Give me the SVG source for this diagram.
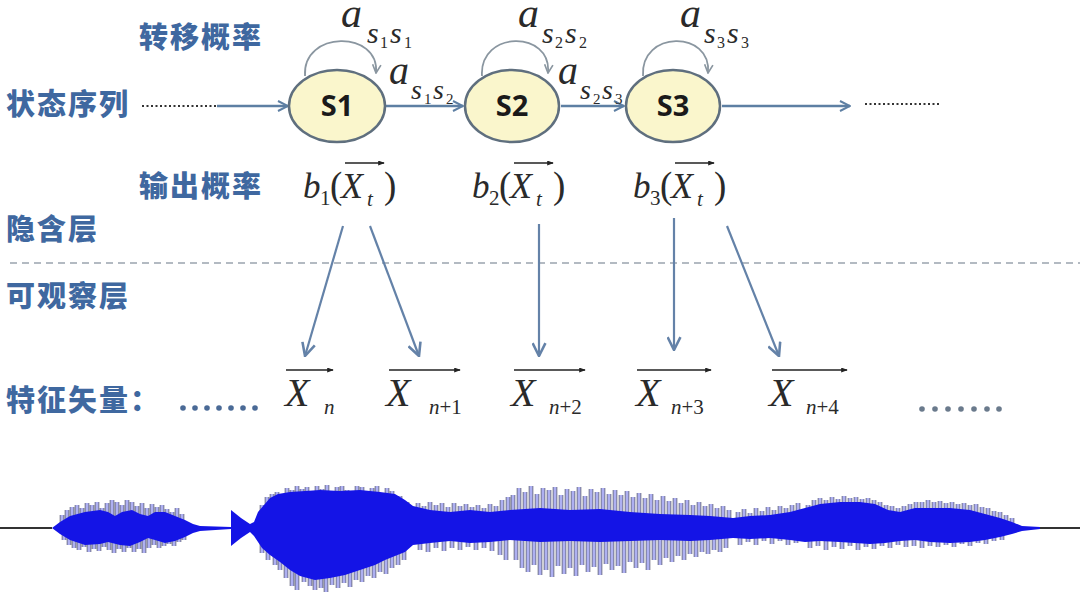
<svg xmlns="http://www.w3.org/2000/svg" width="1080" height="601" viewBox="0 0 1080 601">
<style>
.lbl{font-family:"Noto Sans CJK SC","Noto Sans",sans-serif;font-weight:900;font-size:29px;fill:#3f68a0;letter-spacing:2px}
.m{font-family:"Liberation Serif","DejaVu Serif",serif;fill:#2a2a2a}
.it{font-style:italic}
.node ellipse{fill:#faf6cc;stroke:#5f6f7e;stroke-width:2.5}
.node text{font-family:"Open Sans","Liberation Sans",sans-serif;font-weight:bold;font-size:29px;fill:#1a1a1a;text-anchor:middle}
.flow{stroke:#5d7fa3;stroke-width:2.5;fill:none}
.loop{stroke:#8a96a0;stroke-width:1.8;fill:none}
.emit{stroke:#6482a8;stroke-width:2.2;fill:none}
.ov{stroke:#222;stroke-width:1.5}
</style>
<defs>
<marker id="ah" viewBox="0 0 12 12" refX="11" refY="6" markerWidth="12" markerHeight="12" markerUnits="userSpaceOnUse" orient="auto">
<path d="M1,1 L11,6 L1,11" fill="none" stroke="#5d7fa3" stroke-width="2"/>
</marker>
<marker id="ahl" viewBox="0 0 12 12" refX="11" refY="6" markerWidth="10" markerHeight="10" markerUnits="userSpaceOnUse" orient="auto">
<path d="M1,1 L11,6 L1,11" fill="none" stroke="#8a96a0" stroke-width="2"/>
</marker>
<marker id="ahe" viewBox="0 0 14 14" refX="13" refY="7" markerWidth="15" markerHeight="15" markerUnits="userSpaceOnUse" orient="auto">
<path d="M1,1 L13,7 L1,13" fill="none" stroke="#6482a8" stroke-width="2.4"/>
</marker>
<marker id="ov" viewBox="0 0 8 6" refX="7" refY="3" markerWidth="7" markerHeight="5" markerUnits="userSpaceOnUse" orient="auto">
<path d="M0,0 L8,3 L0,6 Z" fill="#222"/>
</marker>
</defs>
<rect width="1080" height="601" fill="#ffffff"/>

<g id="labels">
<text class="lbl" x="139" y="48">转移概率</text>
<text class="lbl" x="6" y="115">状态序列</text>
<text class="lbl" x="139" y="197">输出概率</text>
<text class="lbl" x="6" y="240">隐含层</text>
<text class="lbl" x="6" y="307">可观察层</text>
<text class="lbl" x="6" y="411">特征矢量：</text>
</g>

<line x1="10" y1="263" x2="1080" y2="263" stroke="#9aa4ae" stroke-width="1.5" stroke-dasharray="7 5"/>

<g id="connectors">
<line x1="142" y1="106" x2="217" y2="106" stroke="#333" stroke-width="2" stroke-dasharray="2 2.5"/>
<line class="flow" x1="217" y1="106" x2="288" y2="106" marker-end="url(#ah)"/>
<line class="flow" x1="386" y1="106" x2="463" y2="106" marker-end="url(#ah)"/>
<line class="flow" x1="561" y1="106" x2="624" y2="106" marker-end="url(#ah)"/>
<line class="flow" x1="722" y1="106" x2="850" y2="106" marker-end="url(#ah)"/>
<line x1="865" y1="104" x2="940" y2="104" stroke="#333" stroke-width="2" stroke-dasharray="2 2.5"/>
<path class="loop" d="M305,76 C302,30 380,30 376,73" marker-end="url(#ahl)"/>
<path class="loop" d="M482,76 C479,30 552,30 548,73" marker-end="url(#ahl)"/>
<path class="loop" d="M643,76 C640,30 712,30 708,73" marker-end="url(#ahl)"/>
<line class="emit" x1="343" y1="226" x2="305" y2="356" marker-end="url(#ahe)"/>
<line class="emit" x1="370" y1="226" x2="419" y2="356" marker-end="url(#ahe)"/>
<line class="emit" x1="539" y1="224" x2="539" y2="356" marker-end="url(#ahe)"/>
<line class="emit" x1="674" y1="218" x2="674" y2="350" marker-end="url(#ahe)"/>
<line class="emit" x1="727" y1="226" x2="779" y2="356" marker-end="url(#ahe)"/>
</g>

<g id="S1" class="node"><ellipse cx="337" cy="106" rx="48" ry="36"/><text x="337" y="116">S1</text></g>
<g id="S2" class="node"><ellipse cx="512" cy="106" rx="47" ry="36"/><text x="512" y="116">S2</text></g>
<g id="S3" class="node"><ellipse cx="673" cy="106" rx="47" ry="36"/><text x="673" y="116">S3</text></g>

<g id="a11" class="m">
<text class="it" x="341" y="27" font-size="42">a</text>
<text class="it" x="367" y="43" font-size="30">s</text><text x="380" y="48" font-size="16">1</text>
<text class="it" x="390" y="43" font-size="30">s</text><text x="404" y="48" font-size="16">1</text>
</g>
<g id="a12" class="m">
<text class="it" x="389" y="84" font-size="40">a</text>
<text class="it" x="411" y="99" font-size="28">s</text><text x="424" y="104" font-size="15">1</text>
<text class="it" x="433" y="99" font-size="28">s</text><text x="446" y="104" font-size="15">2</text>
</g>
<g id="a22" class="m">
<text class="it" x="518" y="27" font-size="42">a</text>
<text class="it" x="542" y="43" font-size="30">s</text><text x="555" y="48" font-size="16">2</text>
<text class="it" x="565" y="43" font-size="30">s</text><text x="579" y="48" font-size="16">2</text>
</g>
<g id="a23" class="m">
<text class="it" x="558" y="84" font-size="40">a</text>
<text class="it" x="580" y="99" font-size="28">s</text><text x="593" y="104" font-size="15">2</text>
<text class="it" x="602" y="99" font-size="28">s</text><text x="615" y="104" font-size="15">3</text>
</g>
<g id="a33" class="m">
<text class="it" x="680" y="27" font-size="42">a</text>
<text class="it" x="704" y="43" font-size="30">s</text><text x="717" y="48" font-size="16">3</text>
<text class="it" x="727" y="43" font-size="30">s</text><text x="741" y="48" font-size="16">3</text>
</g>

<g id="b1" class="m">
<text class="it" x="303" y="198" font-size="35">b</text><text x="320" y="205" font-size="21">1</text>
<text x="330" y="198" font-size="37">(</text><text class="it" x="341" y="198" font-size="36">X</text>
<text class="it" x="367" y="206" font-size="21">t</text><text x="384" y="198" font-size="37">)</text>
<line class="ov" x1="345" y1="163" x2="384" y2="163" marker-end="url(#ov)"/>
</g>
<g id="b2" class="m">
<text class="it" x="472" y="198" font-size="35">b</text><text x="489" y="205" font-size="21">2</text>
<text x="499" y="198" font-size="37">(</text><text class="it" x="510" y="198" font-size="36">X</text>
<text class="it" x="536" y="206" font-size="21">t</text><text x="553" y="198" font-size="37">)</text>
<line class="ov" x1="514" y1="163" x2="553" y2="163" marker-end="url(#ov)"/>
</g>
<g id="b3" class="m">
<text class="it" x="633" y="198" font-size="35">b</text><text x="650" y="205" font-size="21">3</text>
<text x="660" y="198" font-size="37">(</text><text class="it" x="671" y="198" font-size="36">X</text>
<text class="it" x="697" y="206" font-size="21">t</text><text x="714" y="198" font-size="37">)</text>
<line class="ov" x1="675" y1="163" x2="714" y2="163" marker-end="url(#ov)"/>
</g>

<g id="dotsL" fill="#4a6a96">
<circle cx="183" cy="408" r="2.8"/><circle cx="195" cy="408" r="2.8"/><circle cx="207" cy="408" r="2.8"/><circle cx="219" cy="408" r="2.8"/><circle cx="231" cy="408" r="2.8"/><circle cx="243" cy="408" r="2.8"/><circle cx="255" cy="408" r="2.8"/>
</g>
<g id="Xn" class="m">
<text class="it" x="285" y="406" font-size="40">X</text><text class="it" x="324" y="414" font-size="21">n</text>
<line class="ov" x1="286" y1="370" x2="333" y2="370" marker-end="url(#ov)"/>
</g>
<g id="Xn1" class="m">
<text class="it" x="386" y="406" font-size="40">X</text><text x="429" y="414" font-size="21"><tspan font-style="italic">n</tspan>+1</text>
<line class="ov" x1="389" y1="370" x2="460" y2="370" marker-end="url(#ov)"/>
</g>
<g id="Xn2" class="m">
<text class="it" x="511" y="406" font-size="40">X</text><text x="549" y="414" font-size="21"><tspan font-style="italic">n</tspan>+2</text>
<line class="ov" x1="514" y1="370" x2="585" y2="370" marker-end="url(#ov)"/>
</g>
<g id="Xn3" class="m">
<text class="it" x="636" y="406" font-size="40">X</text><text x="671" y="414" font-size="21"><tspan font-style="italic">n</tspan>+3</text>
<line class="ov" x1="637" y1="370" x2="711" y2="370" marker-end="url(#ov)"/>
</g>
<g id="Xn4" class="m">
<text class="it" x="769" y="406" font-size="40">X</text><text x="806" y="414" font-size="21"><tspan font-style="italic">n</tspan>+4</text>
<line class="ov" x1="772" y1="370" x2="847" y2="370" marker-end="url(#ov)"/>
</g>
<g id="dotsR" fill="#6a7a8c">
<circle cx="922" cy="409" r="2.8"/><circle cx="935" cy="409" r="2.8"/><circle cx="948" cy="409" r="2.8"/><circle cx="961" cy="409" r="2.8"/><circle cx="974" cy="409" r="2.8"/><circle cx="987" cy="409" r="2.8"/><circle cx="999" cy="409" r="2.8"/>
</g>

<g id="waveform">
<path d="M0,528 H52 M193,528 H231 M1022,528 H1080" stroke="#333" stroke-width="2"/>
<g id="bars">
<path id="barpath" fill="none" d="
M62,515V528M67,510V528M72,507V528M77,505V528M82,508V528M87,503V528M92,505V528M97,502V528M102,508V528M107,503V528M112,500V528M117,502V528M122,505V528M127,500V528M132,502V528M137,506V528M142,503V528M147,508V528M152,504V528M157,507V528M162,505V528M167,509V528M172,512V528M177,508V528M182,514V528
M64,528V540M69,528V545M74,528V548M79,528V550M84,528V547M89,528V552M94,528V549M99,528V551M104,528V547M109,528V550M114,528V553M119,528V549M124,528V552M129,528V548M134,528V552M139,528V549M144,528V553M149,528V548M154,528V545M159,528V548M164,528V546M169,528V544M174,528V546M179,528V542M184,528V540
M262,505V528M267,497V528M272,494V528M277,492V528M287,488V528M292,490V528M297,486V528M302,489V528M307,487V528M317,486V528M322,489V528M327,485V528M337,487V528M342,486V528M347,490V528M357,486V528M362,487V528M372,488V528M377,486V528M387,488V528M392,491V528M400,496V528M407,502V528
M262,528V553M268,528V560M275,528V565M280,528V570M286,528V578M292,528V586M297,528V590M304,528V582M310,528V586M315,528V590M321,528V588M326,528V592M332,528V585M338,528V588M344,528V583M350,528V587M356,528V580M362,528V582M368,528V576M374,528V578M380,528V572M386,528V574M392,528V568M398,528V565M404,528V560
M418,503V528M424,506V528M430,502V528M436,505V528M442,503V528M448,507V528M454,503V528M460,506V528M466,504V528M472,507V528M478,505V528M484,508V528M490,504V528M496,506V528M502,500V528M508,497V528
M420,528V550M428,528V552M436,528V548M444,528V551M452,528V548M460,528V550M468,528V547M476,528V550M484,528V548M492,528V551M500,528V555M506,528V560
M513,495V528M519,488V528M525,492V528M531,486V528M537,494V528M543,488V528M549,490V528M555,487V528M561,495V528M567,489V528M573,491V528M579,487V528M585,496V528M591,489V528M597,492V528M603,488V528M609,494V528M615,490V528M621,495V528M627,491V528M633,497V528M639,493V528M645,498V528M651,494V528M657,500V528M663,496V528M669,501V528M675,498V528M681,503V528M687,500V528M693,505V528M699,502V528M705,506V528M711,504V528M717,508V528M723,506V528M729,510V528
M516,528V560M522,528V568M528,528V572M534,528V565M540,528V575M546,528V570M552,528V577M558,528V566M564,528V574M570,528V568M576,528V576M582,528V565M588,528V572M594,528V567M600,528V575M606,528V564M612,528V570M618,528V566M624,528V573M630,528V562M636,528V568M642,528V563M648,528V570M654,528V560M660,528V565M666,528V558M672,528V562M678,528V556M684,528V560M690,528V554M696,528V557M702,528V552M708,528V554M714,528V550M720,528V552M726,528V548
M738,512V528M744,509V528M750,513V528M756,508V528M762,511V528M768,507V528M774,510V528M780,506V528M786,508V528M792,505V528M798,503V528
M740,528V545M748,528V542M756,528V545M764,528V541M772,528V544M780,528V541M788,528V545M796,528V543
M808,505V528M814,500V528M820,498V528M826,500V528M832,497V528M838,499V528M844,496V528M850,498V528M856,497V528M862,499V528M868,498V528M874,500V528M880,502V528M886,505V528M892,506V528M898,508V528M904,506V528M910,504V528M916,502V528M922,502V528M928,500V528M934,502V528M940,501V528M946,503V528M952,502V528M958,504V528M964,503V528M970,505V528M976,504V528M982,507V528M988,508V528M994,511V528M1000,512V528M1006,515V528M1012,518V528
M810,528V548M818,528V546M826,528V550M834,528V547M842,528V549M850,528V546M858,528V550M866,528V547M874,528V549M882,528V546M890,528V548M898,528V545M906,528V547M914,528V546M922,528V548M930,528V546M938,528V547M946,528V545M954,528V547M962,528V544M970,528V546M978,528V543M986,528V544M994,528V541M1002,528V540"/>
<use href="#barpath" stroke="#5e6072" stroke-width="4.6"/>
<use href="#barpath" stroke="#aeb0f2" stroke-width="3"/>
</g>
<path id="body" fill="#1414e6" d="
M52,528 L60,522 70,516 85,512 100,510 108,512 115,516 122,512 132,510 140,514 148,516 155,512 165,512 175,516 185,520 193,524 200,526 231,527
L231,510 241,518 250,524 254,522 258,512 264,505 270,498 278,494 290,492 305,491 320,490 340,491 360,490 380,492 395,494 405,500 413,506
L430,510 450,512 470,510 490,512 510,510 540,508 570,510 600,509 630,512 660,514 690,515 710,516 733,518 750,516 770,515 790,512 805,508
L820,504 840,502 860,502 875,504 888,510 900,512 915,508 930,508 950,508 970,510 985,514 1000,518 1012,522 1022,526 1040,527
L1040,529 1022,531 1012,534 1000,537 985,540 970,542 950,543 930,542 915,540 900,541 885,543 870,544 855,543 840,542 820,541 805,542
L790,540 770,538 750,539 733,538 710,540 690,541 660,540 630,541 600,542 570,541 540,542 510,540
L490,542 470,543 450,541 430,543 413,545 405,552 395,556 385,560 375,565 360,570 345,575 330,578 315,580 300,576 290,570 280,562 270,555 262,548 254,536 250,532 241,538 231,546
L231,529 200,531 193,533 185,537 175,541 165,543 155,540 148,538 140,542 130,546 120,545 108,542 100,544 85,545 70,540 60,534 Z"/>
</g>
</svg>
